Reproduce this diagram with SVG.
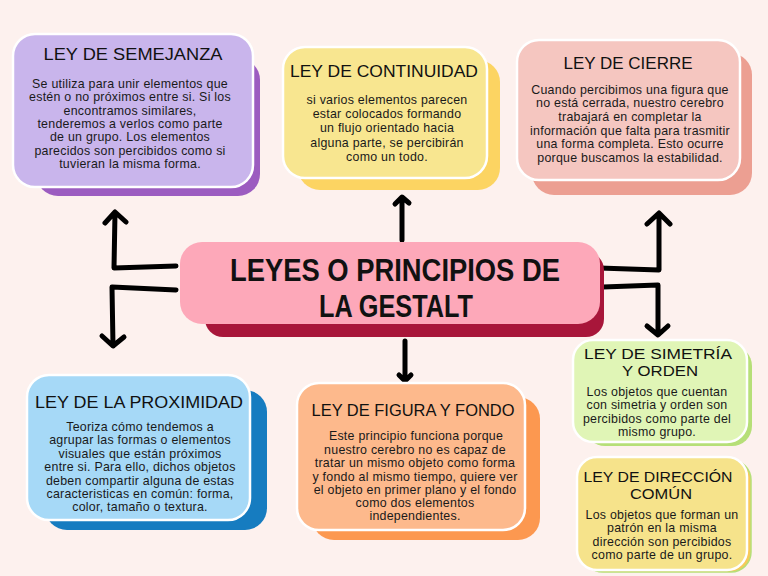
<svg xmlns="http://www.w3.org/2000/svg" width="768" height="576" viewBox="0 0 768 576">
<defs>
<style>
.bg{fill:#fdf1ee}
.front{stroke:#ffffff;stroke-width:2.5}
.ttl{font-family:"Liberation Sans","DejaVu Sans",sans-serif;font-size:17px;fill:#111;text-anchor:middle}
.ttl2{font-family:"Liberation Sans","DejaVu Sans",sans-serif;font-size:15px;fill:#111;text-anchor:middle}
.body{font-family:"Liberation Sans","DejaVu Sans",sans-serif;font-size:12.4px;letter-spacing:0.25px;fill:#1a1a1a;text-anchor:middle}
.main{font-family:"Liberation Sans","DejaVu Sans",sans-serif;font-weight:bold;font-size:32px;fill:#111;text-anchor:middle}
.arr{fill:none;stroke:#000;stroke-width:5;stroke-linecap:round;stroke-linejoin:round}
</style>
</defs>
<rect class="bg" width="768" height="576"/>

<g id="connectors">
  <path class="arr" d="M402,240 L402,198 M395,204 L402,197 L409,203"/>
  <path class="arr" d="M405,341 L405,380 M399,375 L405,381 L411,375"/>
  <path class="arr" d="M176,266 L114,268 L115,213 M105,223 L115,212 L126,222"/>
  <path class="arr" d="M176,290 L112,287 L113,346 M102,336 L113,346 L124,337"/>
  <path class="arr" d="M599,268 L659,270 L659,214 M647,224 L659,213 L670,224"/>
  <path class="arr" d="M603,287 L658,285 L658,334 M647,326 L658,335 L668,326"/>
</g>

<g id="semejanza">
  <rect x="36" y="58" width="224" height="138" rx="22" fill="#9c5cc0"/>
  <rect class="front" x="13" y="34" width="240" height="153" rx="22" fill="#c9b5ec"/>
  <text class="ttl" x="133" y="60" textLength="179" lengthAdjust="spacingAndGlyphs">LEY DE SEMEJANZA</text>
  <text class="body" x="130" y="88">Se utiliza para unir elementos que</text>
  <text class="body" x="130" y="101">estén o no próximos entre si.  Si los</text>
  <text class="body" x="130" y="115">encontramos similares,</text>
  <text class="body" x="130" y="128">tenderemos a verlos como parte</text>
  <text class="body" x="130" y="141">de un grupo.  Los elementos</text>
  <text class="body" x="130" y="155">parecidos son percibidos como si</text>
  <text class="body" x="130" y="168">tuvieran la misma forma.</text>
</g>

<g id="continuidad">
  <rect x="298" y="60" width="202" height="130" rx="22" fill="#fcd462"/>
  <rect class="front" x="283" y="47" width="204" height="131" rx="22" fill="#f8e690"/>
  <text class="ttl" x="384" y="77" textLength="188" lengthAdjust="spacingAndGlyphs">LEY DE CONTINUIDAD</text>
  <text class="body" x="387" y="104">si varios elementos parecen</text>
  <text class="body" x="387" y="118">estar colocados formando</text>
  <text class="body" x="387" y="132">un flujo orientado hacia</text>
  <text class="body" x="387" y="147">alguna parte, se percibirán</text>
  <text class="body" x="387" y="161">como un todo.</text>
</g>

<g id="cierre">
  <rect x="532" y="53" width="220" height="142" rx="22" fill="#ec9f92"/>
  <rect class="front" x="517" y="40" width="223" height="140" rx="22" fill="#f5c6c0"/>
  <text class="ttl" x="628" y="69" textLength="129" lengthAdjust="spacingAndGlyphs">LEY DE CIERRE</text>
  <text class="body" x="630" y="94">Cuando percibimos una figura que</text>
  <text class="body" x="630" y="107">no está cerrada, nuestro cerebro</text>
  <text class="body" x="630" y="121">trabajará en completar la</text>
  <text class="body" x="630" y="135">información que falta para trasmitir</text>
  <text class="body" x="630" y="148">una forma completa. Esto ocurre</text>
  <text class="body" x="630" y="162">porque buscamos la estabilidad.</text>
</g>

<g id="centro">
  <rect x="205" y="252" width="399" height="85" rx="18" fill="#a8163a"/>
  <rect x="180" y="242" width="420" height="82" rx="22" fill="#fda8b9"/>
  <text class="main" x="395" y="281" textLength="330" lengthAdjust="spacingAndGlyphs">LEYES O PRINCIPIOS DE</text>
  <text class="main" x="396" y="317" textLength="154" lengthAdjust="spacingAndGlyphs">LA GESTALT</text>
</g>

<g id="proximidad">
  <rect x="45" y="390" width="222" height="140" rx="22" fill="#167cc0"/>
  <rect class="front" x="27" y="375" width="223" height="145" rx="22" fill="#a6d9f7"/>
  <text class="ttl" x="139" y="408" textLength="208" lengthAdjust="spacingAndGlyphs">LEY DE LA PROXIMIDAD</text>
  <text class="body" x="140" y="431">Teoriza cómo tendemos a</text>
  <text class="body" x="140" y="444">agrupar las formas o elementos</text>
  <text class="body" x="140" y="458">visuales que están próximos</text>
  <text class="body" x="140" y="471">entre si. Para ello, dichos objetos</text>
  <text class="body" x="140" y="485">deben compartir alguna de estas</text>
  <text class="body" x="140" y="498">caracteristicas en común: forma,</text>
  <text class="body" x="140" y="511">color, tamaño o textura.</text>
</g>

<g id="figura">
  <rect x="312" y="397" width="228" height="143" rx="22" fill="#fc9850"/>
  <rect class="front" x="297" y="383" width="228" height="147" rx="22" fill="#fdb98c"/>
  <text class="ttl" x="413" y="416" textLength="203" lengthAdjust="spacingAndGlyphs">LEY DE FIGURA Y FONDO</text>
  <text class="body" x="416" y="440">Este principio funciona porque</text>
  <text class="body" x="415" y="454">nuestro cerebro no es capaz de</text>
  <text class="body" x="415" y="467">tratar un mismo objeto como forma</text>
  <text class="body" x="415" y="481">y fondo al mismo tiempo, quiere ver</text>
  <text class="body" x="415" y="494">el objeto en primer plano y el fondo</text>
  <text class="body" x="415" y="507">como dos elementos</text>
  <text class="body" x="415" y="520">independientes.</text>
</g>

<g id="simetria">
  <rect x="585" y="346" width="167" height="100" rx="20" fill="#b6df78"/>
  <rect class="front" x="573" y="340" width="174" height="102" rx="20" fill="#e0f5b6"/>
  <text class="ttl2" x="658" y="359" textLength="148" lengthAdjust="spacingAndGlyphs">LEY DE SIMETRÍA</text>
  <text class="ttl2" x="660" y="376" textLength="76" lengthAdjust="spacingAndGlyphs">Y ORDEN</text>
  <text class="body" x="657" y="396">Los objetos que cuentan</text>
  <text class="body" x="657" y="409">con simetria y orden son</text>
  <text class="body" x="657" y="423">percibidos como parte del</text>
  <text class="body" x="657" y="436">mismo grupo.</text>
</g>

<g id="direccion">
  <rect x="583" y="460" width="168" height="112" rx="20" fill="#f7c95a" stroke="#b6df78" stroke-width="1.5"/>
  <rect class="front" x="577" y="457" width="170" height="113" rx="20" fill="#f6e38b"/>
  <text class="ttl2" x="658" y="482" textLength="149" lengthAdjust="spacingAndGlyphs">LEY DE DIRECCIÓN</text>
  <text class="ttl2" x="661" y="499" textLength="62" lengthAdjust="spacingAndGlyphs">COMÚN</text>
  <text class="body" x="662" y="519">Los objetos que forman un</text>
  <text class="body" x="662" y="532">patrón en la misma</text>
  <text class="body" x="662" y="546">dirección son percibidos</text>
  <text class="body" x="662" y="559">como parte de un grupo.</text>
</g>
</svg>
